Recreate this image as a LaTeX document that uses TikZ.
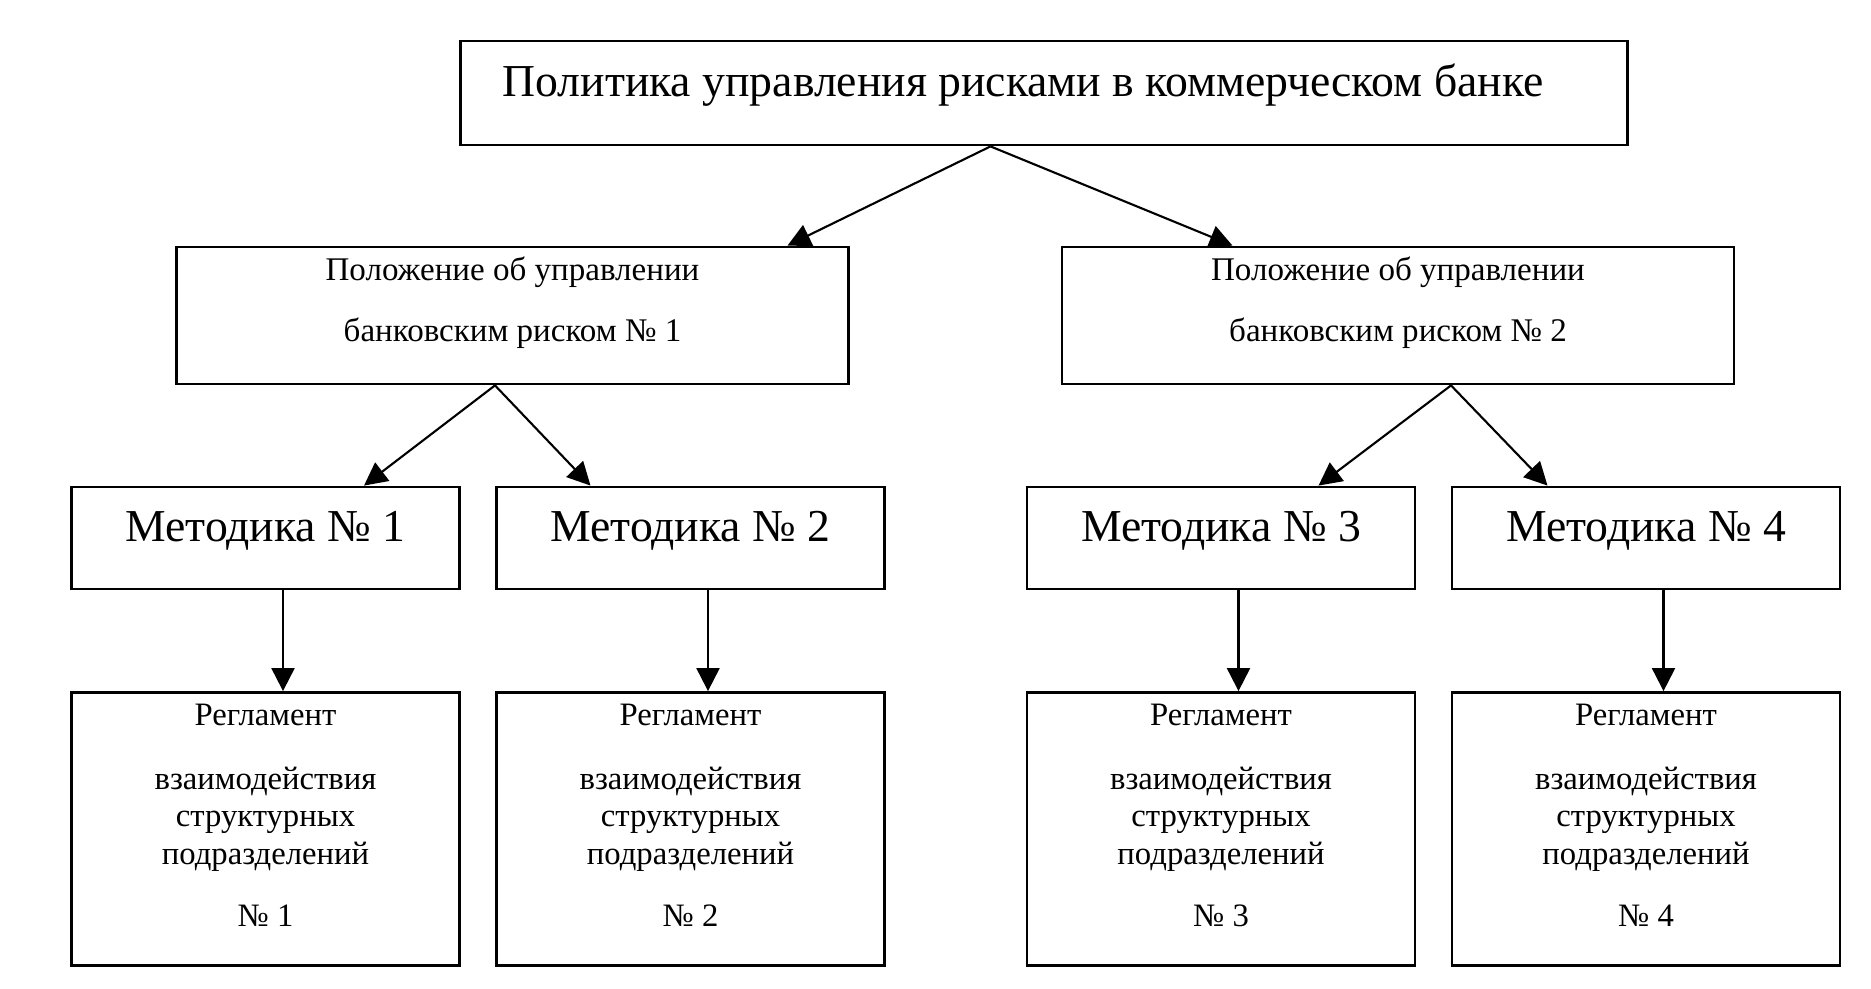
\documentclass[tikz,border=0pt]{standalone}
\usepackage{fontspec}
\setmainfont{Liberation Serif}
\usetikzlibrary{arrows.meta}

\tikzset{
    scatola/.style={draw, line width=1.6pt, inner sep=0pt},
    freccia/.style={line width=1.2pt, -{Triangle[length=0.46cm,width=0.46cm]}},
    grande/.style={anchor=base, inner sep=0pt, font=\fontsize{26}{31}\selectfont},
    medio/.style={anchor=base, inner sep=0pt, align=center, font=\fontsize{18.8}{34.6}\selectfont},
    piccolo/.style={anchor=base, inner sep=0pt, align=center, font=\fontsize{18.6}{21.3}\selectfont}
}

\begin{document}
\begin{tikzpicture}[x=1cm, y=1cm]
\useasboundingbox (0,0) rectangle (37.42,-19.78);

% Politica
\node[scatola, minimum width=23.33cm, minimum height=2.08cm] (politika) at (20.88,-1.86) {};
\node[grande] (tpolitika) at ([xshift=-0.42cm, yshift=-1.14cm]politika.north) {Политика управления рисками в коммерческом банке};

% Regolamenti sui rischi
\foreach \n/\x in {1/10.25, 2/27.96} {
    \node[scatola, minimum width=13.44cm, minimum height=2.74cm] (pol\n) at (\x,-6.31) {};
    \node[medio] (tpol\n) at ([yshift=-1.92cm]pol\n.north) {Положение об управлении\\банковским риском № \n};
}

% Metodiche e regolamenti di interazione
\foreach \n/\x in {1/5.31, 2/13.81, 3/24.42, 4/32.92} {
    \node[scatola, minimum width=7.76cm, minimum height=2.04cm] (met\n) at (\x,-10.76) {};
    \node[grande] (tmet\n) at ([yshift=-1.12cm]met\n.north) {Методика № \n};
    \node[scatola, minimum width=7.76cm, minimum height=5.46cm] (reg\n) at (\x,-16.58) {};
    \node[piccolo] (treg\n) at ([yshift=-4.7cm]reg\n.north) {Регламент\\[15pt]взаимодействия\\структурных\\подразделений\\[13.8pt]№ \n};
    \draw[freccia] ([xshift=0.35cm]met\n.south) -- ([xshift=0.35cm]reg\n.north); % freccia verticale
}

% Frecce oblique
\draw[freccia] ([xshift=-1.07cm]politika.south) -- ([xshift=5.5cm]pol1.north);
\draw[freccia] ([xshift=-1.07cm]politika.south) -- ([xshift=-3.31cm]pol2.north);
\draw[freccia] ([xshift=-0.35cm]pol1.south) -- ([xshift=1.97cm]met1.north);
\draw[freccia] ([xshift=-0.35cm]pol1.south) -- ([xshift=-2.0cm]met2.north);
\draw[freccia] ([xshift=1.06cm]pol2.south) -- ([xshift=1.95cm]met3.north);
\draw[freccia] ([xshift=1.06cm]pol2.south) -- ([xshift=-1.97cm]met4.north);

\end{tikzpicture}
\end{document}
